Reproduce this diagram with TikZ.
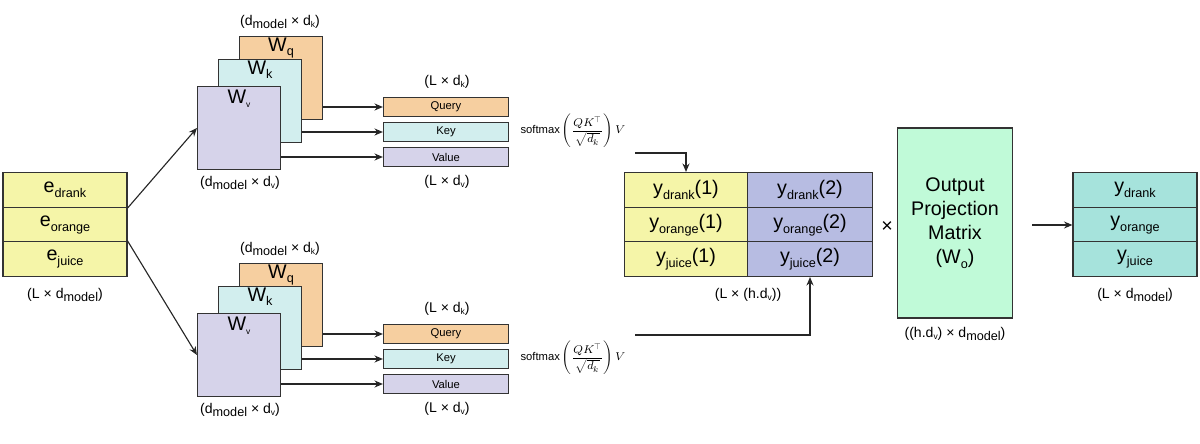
\documentclass[tikz,border=0pt]{standalone}
\usepackage{amsmath}
\usepackage{fontspec}
\setmainfont{Liberation Sans}
\usepackage{unicode-math}
\setmathfont{Latin Modern Math}
\usetikzlibrary{positioning, arrows.meta}

\definecolor{eyellow}{HTML}{F5F5A8}
\definecolor{wqorange}{HTML}{F6CFA0}
\definecolor{wkcyan}{HTML}{D2EEEE}
\definecolor{wvlilac}{HTML}{D6D3EA}
\definecolor{ypurple}{HTML}{B7BCE2}
\definecolor{outgreen}{HTML}{C0FAD8}
\definecolor{finalteal}{HTML}{A6E3DC}

\newcommand{\lowtxt}[1]{\raisebox{-0.45ex}{\small #1}}
\newcommand{\tinysub}[1]{\raisebox{-0.3ex}{\fontsize{6}{6}\selectfont #1}}

\tikzset{
    cell/.style={draw=black!80, thick, minimum width=3.1cm, minimum height=0.875cm, inner sep=0pt, font=\fontsize{14}{15}\selectfont},
    wbox/.style={draw=black!80, thick, minimum width=2.075cm, minimum height=2.075cm, inner sep=0pt},
    bar/.style={draw=black!80, thick, minimum width=3.125cm, minimum height=0.475cm, inner sep=0pt, font=\fontsize{8}{9}\selectfont},
    dimtxt/.style={font=\fontsize{10}{12}\selectfont, inner sep=1pt},
    wtxt/.style={font=\fontsize{14}{15}\selectfont, inner sep=1pt},
    arr/.style={-{Stealth[length=6pt,width=5pt]}, thick, black!85},
}

\begin{document}
\begin{tikzpicture}[x=0.025cm, y=-0.025cm]
    \useasboundingbox (0,0) rectangle (1200,444);

    % input embeddings
    \node[cell, fill=eyellow] (e1) at (65,190) {e\lowtxt{drank}};
    \node[cell, fill=eyellow] (e2) at (65,225) {e\lowtxt{orange}};
    \node[cell, fill=eyellow] (e3) at (65,259) {e\lowtxt{juice}};
    \node[dimtxt] (edim) at (65,295) {(L × d\lowtxt{model})};

    % two heads
    \foreach \g/\dy in {a/0, b/227} {
        \node[wbox, fill=wqorange] (Wq\g) at (281,78+\dy) {};
        \node[wtxt, below=0pt of Wq\g.north] (Wqt\g) {W\lowtxt{q}};
        \node[wbox, fill=wkcyan] (Wk\g) at (260,101+\dy) {};
        \node[wtxt, below=0pt of Wk\g.north] (Wkt\g) {W\lowtxt{k}};
        \node[wbox, fill=wvlilac] (Wv\g) at (239,128+\dy) {};
        \node[wtxt, below=2pt of Wv\g.north] (Wvt\g) {W\tinysub{v}};
        \node[dimtxt] (Wkdim\g) at (280,22+\dy) {(d\lowtxt{model} × d\tinysub{k})};
        \node[dimtxt] (Wvdim\g) at (240,183+\dy) {(d\lowtxt{model} × d\tinysub{v})};
        \node[bar, fill=wqorange] (Q\g) at (446,107+\dy) {Query};
        \node[bar, fill=wkcyan] (K\g) at (446,132+\dy) {Key};
        \node[bar, fill=wvlilac] (V\g) at (446,157+\dy) {Value};
        \node[dimtxt] (Qdim\g) at (447,82+\dy) {(L × d\tinysub{k})};
        \node[dimtxt] (Vdim\g) at (447,182+\dy) {(L × d\tinysub{v})};
        \node[font=\fontsize{8}{9}\selectfont] (sm\g) at (573,131+\dy)
            {$\displaystyle\mathrm{softmax}\left(\frac{QK^{\top}}{\sqrt{d_k}}\right)V$};
        \draw[arr] (Wq\g.east |- Q\g) -- (Q\g);
        \draw[arr] (Wk\g.east |- K\g) -- (K\g);
        \draw[arr] (Wv\g.east |- V\g) -- (V\g);
    }

    % head outputs
    \node[cell, fill=eyellow, minimum width=3.075cm] (y11) at (686,190) {y\lowtxt{drank}(1)};
    \node[cell, fill=eyellow, minimum width=3.075cm] (y21) at (686,225) {y\lowtxt{orange}(1)};
    \node[cell, fill=eyellow, minimum width=3.075cm] (y31) at (686,259) {y\lowtxt{juice}(1)};
    \node[cell, fill=ypurple, minimum width=3.125cm] (y12) at (810,190) {y\lowtxt{drank}(2)};
    \node[cell, fill=ypurple, minimum width=3.125cm] (y22) at (810,225) {y\lowtxt{orange}(2)};
    \node[cell, fill=ypurple, minimum width=3.125cm] (y32) at (810,259) {y\lowtxt{juice}(2)};
    \node[dimtxt] (ydim) at (748,295) {(L × (h.d\tinysub{v}))};

    \coordinate (ina) at (635,153);
    \coordinate (inb) at (635,335);
    \draw[arr] (ina) -| (y11.north);
    \draw[arr] (inb) -| (y32.south);

    \node[wtxt] (times) at (887,227) {×};

    % output projection
    \node[draw=black!80, thick, fill=outgreen, minimum width=2.875cm, minimum height=4.75cm,
          align=center, font=\fontsize{14}{17}\selectfont] (Wo) at (955,223)
          {Output\\Projection\\Matrix\\(W\lowtxt{o})};
    \node[dimtxt] (Wodim) at (955,334) {((h.d\tinysub{v}) × d\lowtxt{model})};

    \node[cell, fill=finalteal] (o1) at (1135,190) {y\lowtxt{drank}};
    \node[cell, fill=finalteal] (o2) at (1135,225) {y\lowtxt{orange}};
    \node[cell, fill=finalteal] (o3) at (1135,259) {y\lowtxt{juice}};
    \node[dimtxt] (odim) at (1135,295) {(L × d\lowtxt{model})};

    \draw[arr] (e1.south east) -- (Wva.west);
    \draw[arr] (e3.north east) -- (Wvb.west);
    \coordinate (oa) at (1032,225);
    \draw[arr] (oa) -- (o2.west);
\end{tikzpicture}
\end{document}
